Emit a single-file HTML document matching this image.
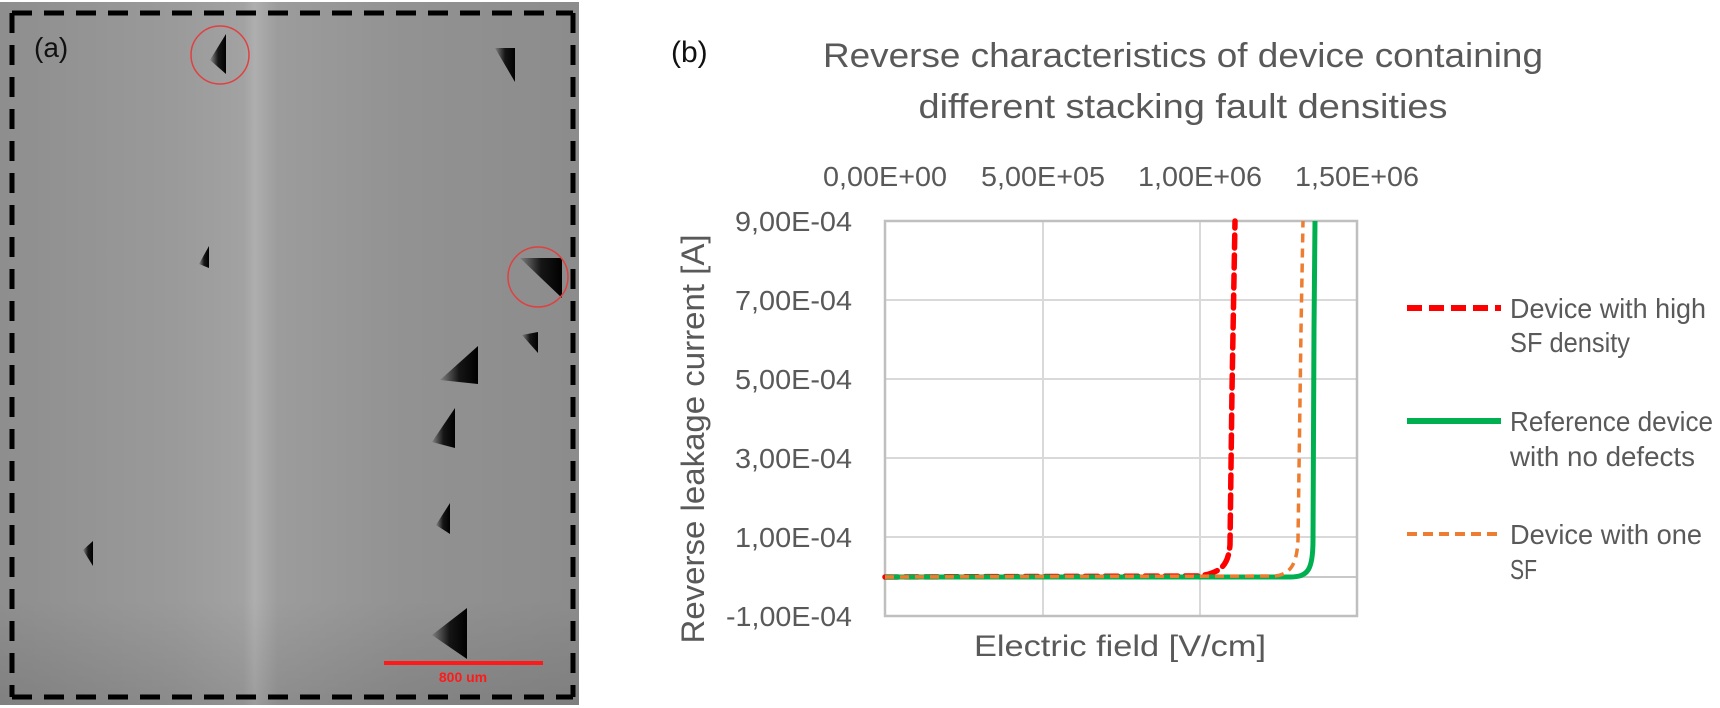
<!DOCTYPE html>
<html><head><meta charset="utf-8"><style>
html,body{margin:0;padding:0;background:#fff;}
svg{display:block;}
text{font-family:"Liberation Sans",sans-serif;fill:#595959;}
</style></head><body>
<svg width="1720" height="708" viewBox="0 0 1720 708" xmlns="http://www.w3.org/2000/svg">
<defs>
<linearGradient id="bg" x1="0" x2="1" y1="0" y2="0">
<stop offset="0" stop-color="#8e8e8e"/>
<stop offset="0.3" stop-color="#9a9a9a"/>
<stop offset="0.42" stop-color="#a2a2a2"/>
<stop offset="0.44" stop-color="#aeaeae"/>
<stop offset="0.48" stop-color="#9c9c9c"/>
<stop offset="0.7" stop-color="#929292"/>
<stop offset="1" stop-color="#8c8c8c"/>
</linearGradient>
<linearGradient id="bot" x1="0" x2="0" y1="0" y2="1">
<stop offset="0" stop-color="#000" stop-opacity="0"/>
<stop offset="1" stop-color="#000" stop-opacity="0.1"/>
</linearGradient>
<linearGradient id="tri" x1="0" x2="1" y1="0" y2="0">
<stop offset="0" stop-color="#000" stop-opacity="0.1"/>
<stop offset="0.5" stop-color="#000" stop-opacity="0.85"/>
<stop offset="1" stop-color="#000" stop-opacity="1"/>
</linearGradient>
</defs>
<rect x="0" y="2" width="579" height="703" fill="url(#bg)"/>
<rect x="0" y="600" width="579" height="105" fill="url(#bot)"/>
<g fill="url(#tri)">
<polygon points="210,60 226,34 226,74"/>
<polygon points="495,48 515,48 515,82"/>
<polygon points="199,264 209,246 209,268"/>
<polygon points="520,258 562,258 562,298"/>
<polygon points="522,335 538,332 538,353"/>
<polygon points="440,380 478,346 478,384"/>
<polygon points="432,442 455,408 455,448"/>
<polygon points="436,525 450,503 450,534"/>
<polygon points="83,550 93,541 93,566"/>
<polygon points="432,635 467,608 467,659"/>
</g>
<circle cx="220" cy="55" r="29" fill="none" stroke="#e04040" stroke-width="1.5"/>
<circle cx="538" cy="277" r="30" fill="none" stroke="#e04040" stroke-width="1.5"/>
<g stroke="#000" stroke-width="5" fill="none" stroke-dasharray="20 12">
<line x1="12" y1="13" x2="573" y2="13"/>
<line x1="12" y1="697" x2="573" y2="697"/>
<line x1="12" y1="13" x2="12" y2="697"/>
<line x1="573" y1="13" x2="573" y2="697"/>
</g>
<text x="34" y="57" font-size="28" style="fill:#111">(a)</text>
<rect x="384" y="661" width="159" height="4" fill="#ff1a1a"/>
<text x="463" y="682" font-size="14" font-weight="bold" text-anchor="middle" style="fill:#ff1a1a">800 um</text>

<text x="671" y="62" font-size="30" style="fill:#111">(b)</text>
<text x="1183" y="67" font-size="34" text-anchor="middle" textLength="720" lengthAdjust="spacingAndGlyphs">Reverse characteristics of device containing</text>
<text x="1183" y="118" font-size="34" text-anchor="middle" textLength="529" lengthAdjust="spacingAndGlyphs">different stacking fault densities</text>
<g font-size="28" text-anchor="middle">
<text x="885" y="186" textLength="124" lengthAdjust="spacingAndGlyphs">0,00E+00</text>
<text x="1043" y="186" textLength="124" lengthAdjust="spacingAndGlyphs">5,00E+05</text>
<text x="1200" y="186" textLength="124" lengthAdjust="spacingAndGlyphs">1,00E+06</text>
<text x="1357" y="186" textLength="124" lengthAdjust="spacingAndGlyphs">1,50E+06</text>
</g>
<g font-size="28" text-anchor="end">
<text x="852" y="231" textLength="117" lengthAdjust="spacingAndGlyphs">9,00E-04</text>
<text x="852" y="310" textLength="117" lengthAdjust="spacingAndGlyphs">7,00E-04</text>
<text x="852" y="389" textLength="117" lengthAdjust="spacingAndGlyphs">5,00E-04</text>
<text x="852" y="468" textLength="117" lengthAdjust="spacingAndGlyphs">3,00E-04</text>
<text x="852" y="547" textLength="117" lengthAdjust="spacingAndGlyphs">1,00E-04</text>
<text x="852" y="626" textLength="126" lengthAdjust="spacingAndGlyphs">-1,00E-04</text>
</g>
<text transform="translate(704,439) rotate(-90)" font-size="32" text-anchor="middle" textLength="409" lengthAdjust="spacingAndGlyphs">Reverse leakage current [A]</text>
<text x="1120" y="656" font-size="30" text-anchor="middle" textLength="292" lengthAdjust="spacingAndGlyphs">Electric field [V/cm]</text>
<g stroke="#d9d9d9" stroke-width="2">
<line x1="885" y1="300" x2="1357" y2="300"/>
<line x1="885" y1="379" x2="1357" y2="379"/>
<line x1="885" y1="458" x2="1357" y2="458"/>
<line x1="885" y1="537" x2="1357" y2="537"/>
<line x1="885" y1="577" x2="1357" y2="577" stroke="#c8c8c8"/>
<line x1="1043" y1="221" x2="1043" y2="616"/>
<line x1="1200" y1="221" x2="1200" y2="616"/>
</g>
<rect x="885" y="221" width="472" height="395" fill="none" stroke="#bfbfbf" stroke-width="2.5"/>
<path d="M885,577 L1200,576 C1222,572 1228,565 1230,545 L1232,390 L1235,221" fill="none" stroke="#ff0000" stroke-width="5.5" stroke-dasharray="13 7" stroke-linecap="round"/>
<path d="M885,577 L1290,577 C1308,577 1313,570 1313,540 L1314,330 L1315,221" fill="none" stroke="#00b050" stroke-width="5"/>
<path d="M885,577 L1275,576 C1293,574 1297,560 1298,540 L1301,330 L1303,221" fill="none" stroke="#ed7d31" stroke-width="3.5" stroke-dasharray="9 6"/>
<line x1="1407" y1="308" x2="1501" y2="308" stroke="#ff0000" stroke-width="6" stroke-dasharray="15 7"/>
<line x1="1407" y1="421" x2="1501" y2="421" stroke="#00b050" stroke-width="6"/>
<line x1="1407" y1="534" x2="1501" y2="534" stroke="#ed7d31" stroke-width="4" stroke-dasharray="10 6"/>
<g font-size="28">
<text x="1510" y="318" textLength="196" lengthAdjust="spacingAndGlyphs">Device with high</text>
<text x="1510" y="352" textLength="120" lengthAdjust="spacingAndGlyphs">SF density</text>
<text x="1510" y="431" textLength="203" lengthAdjust="spacingAndGlyphs">Reference device</text>
<text x="1510" y="466" textLength="185" lengthAdjust="spacingAndGlyphs">with no defects</text>
<text x="1510" y="544" textLength="192" lengthAdjust="spacingAndGlyphs">Device with one</text>
<text x="1510" y="579" textLength="27" lengthAdjust="spacingAndGlyphs">SF</text>
</g>
</svg>
</body></html>
